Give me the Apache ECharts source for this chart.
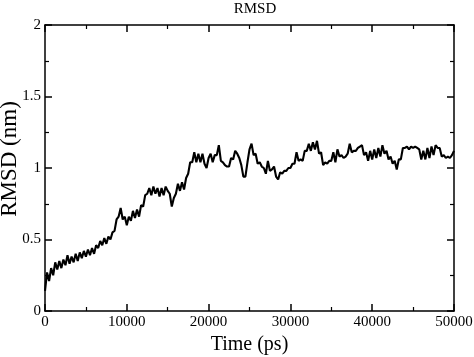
<!DOCTYPE html>
<html>
<head>
<meta charset="utf-8">
<script src="https://cdn.jsdelivr.net/npm/echarts@6/dist/echarts.min.js"></script>
<style>
  html, body { margin: 0; padding: 0; background: #fff; }
  #chart { width: 474px; height: 357px; }
</style>
</head>
<body>
<div id="chart"></div>
<script>
"use strict";

/* ---------- data: RMSD trace, one reading every 250 ps ---------- */
const TIME_STEP = 250;
const rmsd = [
  0.14, 0.27, 0.21, 0.30, 0.25, 0.34, 0.29, 0.35, 0.30, 0.36,   // 0 - 2250
  0.32, 0.39, 0.33, 0.38, 0.34, 0.40, 0.35, 0.41, 0.37, 0.42,   // 2500 - 4750
  0.38, 0.43, 0.39, 0.44, 0.40, 0.46, 0.44, 0.49, 0.46, 0.51,   // 5000 - 7250
  0.47, 0.52, 0.50, 0.55, 0.56, 0.64, 0.66, 0.72, 0.64, 0.66,   // 7500 - 9750
  0.60, 0.66, 0.63, 0.70, 0.65, 0.71, 0.66, 0.74, 0.73, 0.81,   // 10000 - 12250
  0.82, 0.86, 0.81, 0.87, 0.82, 0.86, 0.80, 0.86, 0.81, 0.87,   // 12500 - 14750
  0.84, 0.82, 0.73, 0.79, 0.82, 0.89, 0.84, 0.90, 0.85, 0.93,   // 15000 - 17250
  0.96, 1.04, 1.04, 1.11, 1.04, 1.10, 1.04, 1.10, 1.03, 1.00,   // 17500 - 19750
  1.07, 1.10, 1.04, 1.09, 1.09, 1.16, 1.05, 1.04, 1.02, 1.01,   // 20000 - 22250
  1.01, 1.07, 1.06, 1.12, 1.10, 1.07, 1.02, 0.94, 0.94, 1.04,   // 22500 - 24750
  1.13, 1.17, 1.09, 1.10, 1.03, 1.04, 1.01, 1.00, 0.96, 1.05,   // 25000 - 27250
  0.98, 0.99, 1.01, 0.94, 0.92, 0.97, 0.96, 0.98, 0.98, 1.00,   // 27500 - 29750
  1.00, 1.03, 1.03, 1.11, 1.05, 1.06, 1.05, 1.12, 1.12, 1.17,   // 30000 - 32250
  1.12, 1.18, 1.13, 1.19, 1.10, 1.11, 1.02, 1.04, 1.03, 1.05,   // 32500 - 34750
  1.05, 1.11, 1.04, 1.13, 1.08, 1.09, 1.07, 1.08, 1.10, 1.17,   // 35000 - 37250
  1.11, 1.12, 1.12, 1.14, 1.15, 1.16, 1.09, 1.11, 1.05, 1.12,   // 37500 - 39750
  1.06, 1.13, 1.07, 1.14, 1.08, 1.16, 1.10, 1.12, 1.06, 1.08,   // 40000 - 42250
  1.03, 1.05, 0.99, 1.06, 1.06, 1.14, 1.14, 1.15, 1.13, 1.15,   // 42500 - 44750
  1.14, 1.15, 1.14, 1.13, 1.06, 1.12, 1.06, 1.14, 1.07, 1.15,   // 45000 - 47250
  1.09, 1.16, 1.14, 1.14, 1.08, 1.09, 1.07, 1.08, 1.07, 1.09,   // 47500 - 49750
  1.12                                                          // 50000
];

const xTicks = [0, 10000, 20000, 30000, 40000, 50000];
const yTicks = [0, 0.5, 1, 1.5, 2];

/* ---------- style ---------- */
const FONT = '"Liberation Serif", "Times New Roman", serif';
const INK = "#000";

const points = rmsd.map((v, i) => [i * TIME_STEP, v]);

// common axis pieces: ticks point into the plot, like xmgrace
function axisBase(extra) {
  return Object.assign({
    axisLine: { show: true, onZero: false, lineStyle: { color: INK, width: 1.5 } },
    axisTick: { show: true, inside: true, length: 7, lineStyle: { color: INK, width: 1.5 } },
    minorTick: { show: true, splitNumber: 2, length: 4, lineStyle: { color: INK, width: 1.2 } },
    splitLine: { show: false },
    axisLabel: { show: false }
  }, extra);
}

const xRange = { min: xTicks[0], max: xTicks[xTicks.length - 1], interval: 10000 };
const yRange = { min: yTicks[0], max: yTicks[yTicks.length - 1], interval: 0.5 };

const option = {
  animation: false,
  textStyle: { fontFamily: FONT },
  title: {
    text: "RMSD", left: 250, top: -3, textAlign: "center",
    textStyle: { fontFamily: FONT, fontWeight: "normal", fontSize: 15, color: INK }
  },
  grid: { left: 45, right: 20, top: 25, bottom: 46, containLabel: false, outerBoundsMode: "none" },
  xAxis: [
    axisBase(Object.assign({
      type: "value", position: "bottom",
      name: "Time (ps)", nameLocation: "middle", nameGap: 24,
      nameTextStyle: { fontFamily: FONT, fontSize: 20, color: INK },
      axisLabel: { show: true, fontFamily: FONT, fontSize: 15, color: INK, margin: 4,
                   formatter: v => String(v) }
    }, xRange)),
    axisBase(Object.assign({ type: "value", position: "top" }, xRange))
  ],
  yAxis: [
    axisBase(Object.assign({
      type: "value", position: "left",
      name: "RMSD (nm)", nameLocation: "middle", nameGap: 24, nameMoveOverlap: false,
      // the label sits a little above the middle of the axis
      nameTextStyle: { fontFamily: FONT, fontSize: 23, color: INK, padding: [0, 0, 0, 18] },
      axisLabel: { show: true, fontFamily: FONT, fontSize: 15, color: INK, margin: 4 }
    }, yRange)),
    axisBase(Object.assign({ type: "value", position: "right" }, yRange))
  ],
  series: [{
    type: "line",
    data: points,
    showSymbol: false,
    smooth: false,
    lineStyle: { color: INK, width: 2.1 }
  }]
};

const chart = echarts.init(document.getElementById("chart"), null, { renderer: "canvas" });
chart.setOption(option);
</script>
</body>
</html>
